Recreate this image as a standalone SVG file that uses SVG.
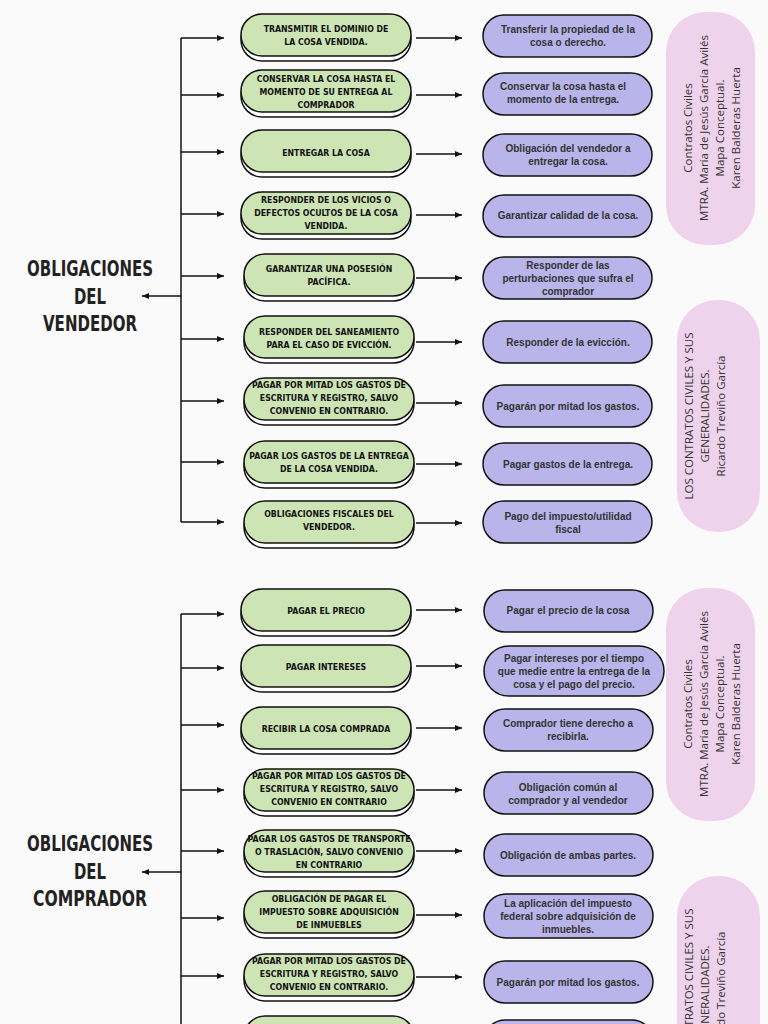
<svg xmlns="http://www.w3.org/2000/svg" width="768" height="1024" viewBox="0 0 768 1024">
<defs>
<marker id="ah" markerWidth="8" markerHeight="8" refX="7" refY="4" orient="auto" markerUnits="userSpaceOnUse"><path d="M0,1 L7,4 L0,7 Z" fill="#111"/></marker>
<style>
.g{fill:#cde4b4;stroke:#111;stroke-width:1.5}
.s{fill:#fff;stroke:#111;stroke-width:1.5}
.p{fill:#b9b4ea;stroke:#111;stroke-width:1.5}
.k{fill:#efd3ec}
.gt{font-family:"DejaVu Sans Condensed","Liberation Sans",sans-serif;font-size:8.7px;font-weight:bold;fill:#111;text-anchor:middle}
.pt{font-family:"Liberation Sans",Arial,sans-serif;font-size:10px;font-weight:bold;fill:#333;text-anchor:middle}
.tt{font-family:"DejaVu Sans Condensed","Liberation Sans",sans-serif;font-size:22px;font-weight:bold;fill:#222;text-anchor:middle}
.kt{font-family:"Open Sans","Liberation Sans",sans-serif;font-size:11.5px;fill:#333;text-anchor:middle}
.c{stroke:#111;stroke-width:1.5;fill:none}
.a{marker-end:url(#ah)}
</style>
</defs>
<rect width="768" height="1024" fill="#fafafa"/>
<g id="info1"><rect class="k" x="666" y="12" width="89" height="233" rx="40"/>
<g transform="translate(710,128) rotate(-90)" class="kt"><text y="-18">Contratos Civiles</text><text y="-2">MTRA. María de Jesús García Avilés</text><text y="14">Mapa Conceptual.</text><text y="30">Karen Balderas Huerta</text></g></g>
<g id="info2"><rect class="k" x="677" y="300" width="83" height="232" rx="40"/>
<g transform="translate(710,416) rotate(-90)" class="kt"><text y="-17">LOS CONTRATOS CIVILES Y SUS</text><text y="-1">GENERALIDADES.</text><text y="15">Ricardo Treviño García</text></g></g>
<g id="info3"><rect class="k" x="666" y="588" width="89" height="233" rx="40"/>
<g transform="translate(710,704) rotate(-90)" class="kt"><text y="-18">Contratos Civiles</text><text y="-2">MTRA. María de Jesús García Avilés</text><text y="14">Mapa Conceptual.</text><text y="30">Karen Balderas Huerta</text></g></g>
<g id="info4"><rect class="k" x="677" y="876" width="83" height="232" rx="40"/>
<g transform="translate(710,992) rotate(-90)" class="kt"><text y="-17">LOS CONTRATOS CIVILES Y SUS</text><text y="-1">GENERALIDADES.</text><text y="15">Ricardo Treviño García</text></g></g>

<g id="t1" class="tt"><text x="90" y="276" textLength="126" lengthAdjust="spacingAndGlyphs">OBLIGACIONES</text><text x="90" y="304" textLength="32" lengthAdjust="spacingAndGlyphs">DEL</text><text x="90" y="331" textLength="94" lengthAdjust="spacingAndGlyphs">VENDEDOR</text></g>
<g id="t2" class="tt"><text x="90" y="851" textLength="126" lengthAdjust="spacingAndGlyphs">OBLIGACIONES</text><text x="90" y="879" textLength="32" lengthAdjust="spacingAndGlyphs">DEL</text><text x="90" y="906" textLength="114" lengthAdjust="spacingAndGlyphs">COMPRADOR</text></g>

<g id="connectors">
<path class="c" d="M181,38 V522"/>
<path class="c a" d="M181,296 H142"/>
<path class="c a" d="M181,38 H224"/><path class="c a" d="M181,95 H224"/><path class="c a" d="M181,152 H224"/><path class="c a" d="M181,214 H224"/><path class="c a" d="M181,276 H224"/><path class="c a" d="M181,339 H224"/><path class="c a" d="M181,401 H224"/><path class="c a" d="M181,462 H224"/><path class="c a" d="M181,522 H224"/>
<path class="c a" d="M416,38 H462"/><path class="c a" d="M416,95 H462"/><path class="c a" d="M416,154 H462"/><path class="c a" d="M416,215 H462"/><path class="c a" d="M416,278 H462"/><path class="c a" d="M416,342 H462"/><path class="c a" d="M416,403 H462"/><path class="c a" d="M416,464 H462"/><path class="c a" d="M416,523 H462"/>
<path class="c" d="M181,614 V1024"/>
<path class="c a" d="M181,872 H142"/>
<path class="c a" d="M181,614 H224"/><path class="c a" d="M181,668 H224"/><path class="c a" d="M181,725 H224"/><path class="c a" d="M181,790 H224"/><path class="c a" d="M181,851 H224"/><path class="c a" d="M181,918 H224"/><path class="c a" d="M181,976 H224"/><path class="c a" d="M181,1030 H224"/>
<path class="c a" d="M416,610 H462"/><path class="c a" d="M416,666 H462"/><path class="c a" d="M416,728 H462"/><path class="c a" d="M416,790 H462"/><path class="c a" d="M416,851 H462"/><path class="c a" d="M416,915 H462"/><path class="c a" d="M416,977 H462"/>
</g>

<g id="v1"><rect class="s" x="241" y="19" width="170" height="42" rx="21"/><rect class="g" x="241" y="14" width="170" height="42" rx="21"/><text class="gt" x="326" y="32">TRANSMITIR EL DOMINIO DE</text><text class="gt" x="326" y="45">LA COSA VENDIDA.</text></g>
<g id="v2"><rect class="s" x="241" y="75" width="170" height="42" rx="21"/><rect class="g" x="241" y="70" width="170" height="42" rx="21"/><text class="gt" x="326" y="82">CONSERVAR LA COSA HASTA EL</text><text class="gt" x="326" y="95">MOMENTO DE SU ENTREGA AL</text><text class="gt" x="326" y="108">COMPRADOR</text></g>
<g id="v3"><rect class="s" x="241" y="135" width="170" height="42" rx="21"/><rect class="g" x="241" y="130" width="170" height="42" rx="21"/><text class="gt" x="326" y="156">ENTREGAR LA COSA</text></g>
<g id="v4"><rect class="s" x="241" y="197" width="170" height="42" rx="21"/><rect class="g" x="241" y="192" width="170" height="42" rx="21"/><text class="gt" x="326" y="203">RESPONDER DE LOS VICIOS O</text><text class="gt" x="326" y="216">DEFECTOS OCULTOS DE LA COSA</text><text class="gt" x="326" y="229">VENDIDA.</text></g>
<g id="v5"><rect class="s" x="244" y="259" width="170" height="42" rx="21"/><rect class="g" x="244" y="254" width="170" height="42" rx="21"/><text class="gt" x="329" y="272">GARANTIZAR UNA POSESIÓN</text><text class="gt" x="329" y="285">PACÍFICA.</text></g>
<g id="v6"><rect class="s" x="244" y="321" width="170" height="42" rx="21"/><rect class="g" x="244" y="316" width="170" height="42" rx="21"/><text class="gt" x="329" y="335">RESPONDER DEL SANEAMIENTO</text><text class="gt" x="329" y="348">PARA EL CASO DE EVICCIÓN.</text></g>
<g id="v7"><rect class="s" x="244" y="383" width="170" height="42" rx="21"/><rect class="g" x="244" y="378" width="170" height="42" rx="21"/><text class="gt" x="329" y="388">PAGAR POR MITAD LOS GASTOS DE</text><text class="gt" x="329" y="401">ESCRITURA Y REGISTRO, SALVO</text><text class="gt" x="329" y="414">CONVENIO EN CONTRARIO.</text></g>
<g id="v8"><rect class="s" x="244" y="446" width="170" height="42" rx="21"/><rect class="g" x="244" y="441" width="170" height="42" rx="21"/><text class="gt" x="329" y="459">PAGAR LOS GASTOS DE LA ENTREGA</text><text class="gt" x="329" y="472">DE LA COSA VENDIDA.</text></g>
<g id="v9"><rect class="s" x="244" y="506" width="170" height="42" rx="21"/><rect class="g" x="244" y="501" width="170" height="42" rx="21"/><text class="gt" x="329" y="517">OBLIGACIONES FISCALES DEL</text><text class="gt" x="329" y="530">VENDEDOR.</text></g>

<g id="r1"><rect class="p" x="483" y="15" width="169" height="42" rx="21"/><text class="pt" x="568" y="33">Transferir la propiedad de la</text><text class="pt" x="568" y="46">cosa o derecho.</text></g>
<g id="r2"><rect class="p" x="483" y="73" width="169" height="42" rx="21"/><text class="pt" x="563" y="90">Conservar la cosa hasta el</text><text class="pt" x="563" y="103">momento de la entrega.</text></g>
<g id="r3"><rect class="p" x="483" y="134" width="169" height="42" rx="21"/><text class="pt" x="568" y="152">Obligación del vendedor a</text><text class="pt" x="568" y="165">entregar la cosa.</text></g>
<g id="r4"><rect class="p" x="483" y="195" width="169" height="42" rx="21"/><text class="pt" x="568" y="219">Garantizar calidad de la cosa.</text></g>
<g id="r5"><rect class="p" x="483" y="257" width="169" height="42" rx="21"/><text class="pt" x="568" y="269">Responder de las</text><text class="pt" x="568" y="282">perturbaciones que sufra el</text><text class="pt" x="568" y="295">comprador</text></g>
<g id="r6"><rect class="p" x="483" y="321" width="169" height="42" rx="21"/><text class="pt" x="568" y="346">Responder de la evicción.</text></g>
<g id="r7"><rect class="p" x="483" y="385" width="169" height="42" rx="21"/><text class="pt" x="568" y="410">Pagarán por mitad los gastos.</text></g>
<g id="r8"><rect class="p" x="483" y="443" width="169" height="42" rx="21"/><text class="pt" x="568" y="468">Pagar gastos de la entrega.</text></g>
<g id="r9"><rect class="p" x="483" y="501" width="169" height="42" rx="21"/><text class="pt" x="568" y="520">Pago del impuesto/utilidad</text><text class="pt" x="568" y="533">fiscal</text></g>

<g id="b1"><rect class="s" x="241" y="594" width="170" height="42" rx="21"/><rect class="g" x="241" y="589" width="170" height="42" rx="21"/><text class="gt" x="326" y="614">PAGAR EL PRECIO</text></g>
<g id="b2"><rect class="s" x="241" y="650" width="170" height="42" rx="21"/><rect class="g" x="241" y="645" width="170" height="42" rx="21"/><text class="gt" x="326" y="670">PAGAR INTERESES</text></g>
<g id="b3"><rect class="s" x="241" y="712" width="170" height="42" rx="21"/><rect class="g" x="241" y="707" width="170" height="42" rx="21"/><text class="gt" x="326" y="732">RECIBIR LA COSA COMPRADA</text></g>
<g id="b4"><rect class="s" x="244" y="774" width="170" height="42" rx="21"/><rect class="g" x="244" y="769" width="170" height="42" rx="21"/><text class="gt" x="329" y="779">PAGAR POR MITAD LOS GASTOS DE</text><text class="gt" x="329" y="792">ESCRITURA Y REGISTRO, SALVO</text><text class="gt" x="329" y="805">CONVENIO EN CONTRARIO</text></g>
<g id="b5"><rect class="s" x="244" y="835" width="170" height="42" rx="21"/><rect class="g" x="244" y="830" width="170" height="42" rx="21"/><text class="gt" x="329" y="842">PAGAR LOS GASTOS DE TRANSPORTE</text><text class="gt" x="329" y="855">O TRASLACIÓN, SALVO CONVENIO</text><text class="gt" x="329" y="868">EN CONTRARIO</text></g>
<g id="b6"><rect class="s" x="244" y="896" width="170" height="42" rx="21"/><rect class="g" x="244" y="891" width="170" height="42" rx="21"/><text class="gt" x="329" y="902">OBLIGACIÓN DE PAGAR EL</text><text class="gt" x="329" y="915">IMPUESTO SOBRE ADQUISICIÓN</text><text class="gt" x="329" y="928">DE INMUEBLES</text></g>
<g id="b7"><rect class="s" x="244" y="959" width="170" height="42" rx="21"/><rect class="g" x="244" y="954" width="170" height="42" rx="21"/><text class="gt" x="329" y="964">PAGAR POR MITAD LOS GASTOS DE</text><text class="gt" x="329" y="977">ESCRITURA Y REGISTRO, SALVO</text><text class="gt" x="329" y="990">CONVENIO EN CONTRARIO.</text></g>
<g id="b8"><rect class="s" x="244" y="1021" width="170" height="42" rx="21"/><rect class="g" x="244" y="1016" width="170" height="42" rx="21"/></g>

<g id="q1"><rect class="p" x="484" y="590" width="169" height="42" rx="21"/><text class="pt" x="568" y="614">Pagar el precio de la cosa</text></g>
<g id="q2"><rect class="p" x="484" y="646" width="180" height="50" rx="25"/><text class="pt" x="574" y="662">Pagar intereses por el tiempo</text><text class="pt" x="574" y="675">que medie entre la entrega de la</text><text class="pt" x="574" y="688">cosa y el pago del precio.</text></g>
<g id="q3"><rect class="p" x="484" y="709" width="169" height="42" rx="21"/><text class="pt" x="568" y="727">Comprador tiene derecho a</text><text class="pt" x="568" y="740">recibirla.</text></g>
<g id="q4"><rect class="p" x="484" y="772" width="169" height="42" rx="21"/><text class="pt" x="568" y="791">Obligación común al</text><text class="pt" x="568" y="804">comprador y al vendedor</text></g>
<g id="q5"><rect class="p" x="484" y="834" width="169" height="42" rx="21"/><text class="pt" x="568" y="859">Obligación de ambas partes.</text></g>
<g id="q6"><rect class="p" x="484" y="894" width="169" height="44" rx="22"/><text class="pt" x="568" y="907">La aplicación del impuesto</text><text class="pt" x="568" y="920">federal sobre adquisición de</text><text class="pt" x="568" y="933">inmuebles.</text></g>
<g id="q7"><rect class="p" x="484" y="961" width="169" height="42" rx="21"/><text class="pt" x="568" y="986">Pagarán por mitad los gastos.</text></g>
<g id="q8"><rect class="p" x="484" y="1020" width="169" height="42" rx="21"/></g>
</svg>
